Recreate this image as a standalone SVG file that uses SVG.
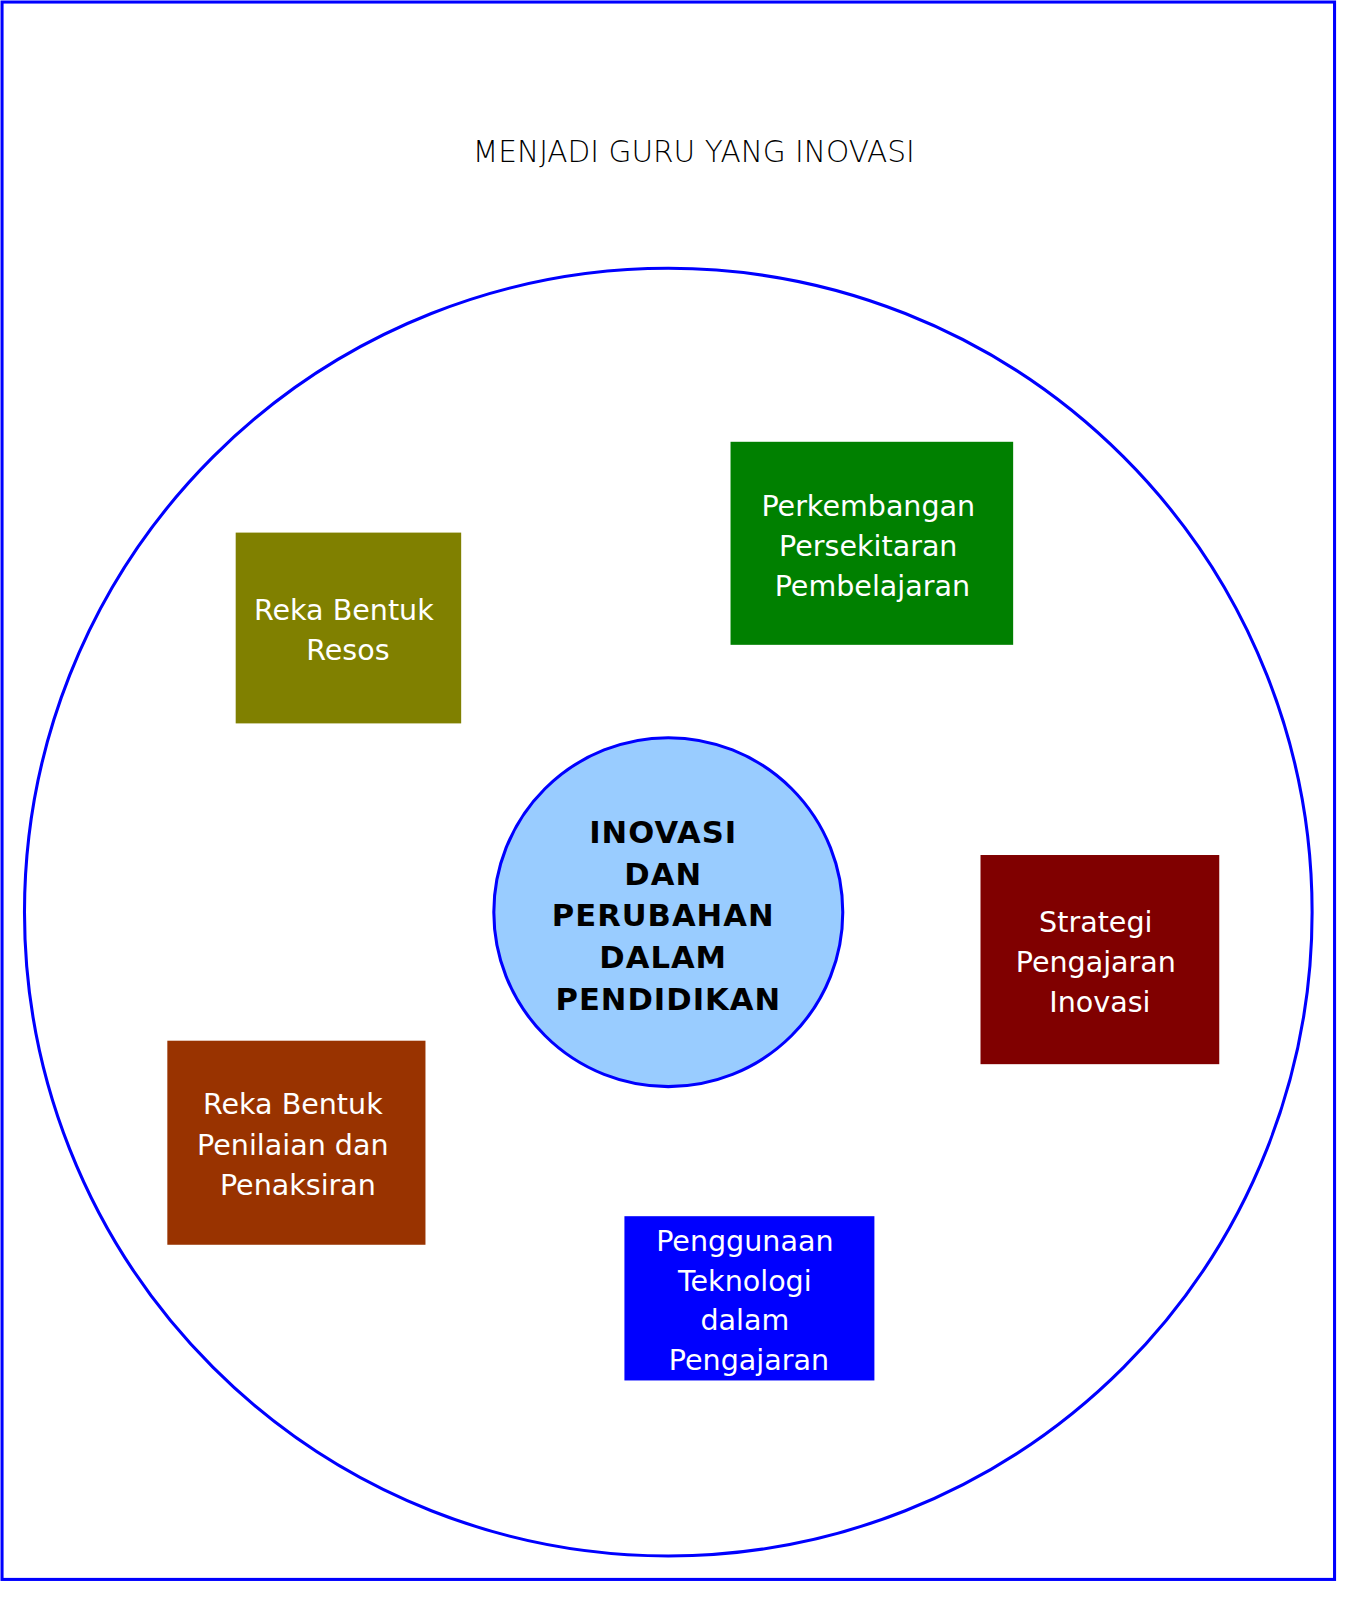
<svg xmlns="http://www.w3.org/2000/svg" width="1355" height="1600" viewBox="0 0 1355 1600">
<style>
.bt{font-family:"DejaVu Sans",Verdana,sans-serif;font-size:28px;fill:#fff;text-anchor:middle}
.ct{font-family:"DejaVu Sans",Verdana,sans-serif;font-size:30px;font-weight:bold;fill:#000;text-anchor:middle;letter-spacing:1px}
</style>
<rect width="1355" height="1600" fill="#fff"/>
<g transform="scale(1.0203)">
<rect x="2" y="2" width="1306" height="1546" fill="none" stroke="#0000FF" stroke-width="3"/>
<text x="680" y="159" font-family="DejaVu Sans,sans-serif" font-size="29" font-weight="300" text-anchor="middle" fill="#000">MENJADI GURU YANG INOVASI</text>
<g id="outer"><circle cx="655" cy="894" r="631" fill="none" stroke="#0000FF" stroke-width="3"/></g>
<g id="center"><circle cx="655" cy="894" r="171" fill="#99CCFF" stroke="#0000FF" stroke-width="3"/>
<text class="ct"><tspan x="650" y="826">INOVASI</tspan><tspan x="650" y="867">DAN</tspan><tspan x="650" y="908">PERUBAHAN</tspan><tspan x="650" y="949">DALAM</tspan><tspan x="655" y="990">PENDIDIKAN</tspan></text></g>
<g id="resos"><rect x="231" y="522" width="221" height="187" fill="#808000"/>
<text class="bt"><tspan x="337" y="608">Reka Bentuk</tspan><tspan x="341" y="647">Resos</tspan></text></g>
<g id="persekitaran"><rect x="716" y="433" width="277" height="199" fill="#008000"/>
<text class="bt"><tspan x="851" y="506">Perkembangan</tspan><tspan x="851" y="545">Persekitaran</tspan><tspan x="855" y="584">Pembelajaran</tspan></text></g>
<g id="strategi"><rect x="961" y="838" width="234" height="205" fill="#800000"/>
<text class="bt"><tspan x="1074" y="913">Strategi</tspan><tspan x="1074" y="953">Pengajaran</tspan><tspan x="1078" y="992">Inovasi</tspan></text></g>
<g id="penilaian"><rect x="164" y="1020" width="253" height="200" fill="#993300"/>
<text class="bt"><tspan x="287" y="1092">Reka Bentuk</tspan><tspan x="287" y="1132">Penilaian dan</tspan><tspan x="292" y="1171">Penaksiran</tspan></text></g>
<g id="teknologi"><rect x="612" y="1192" width="245" height="161" fill="#0000FF"/>
<text class="bt"><tspan x="730" y="1226">Penggunaan</tspan><tspan x="730" y="1265">Teknologi</tspan><tspan x="730" y="1304">dalam</tspan><tspan x="734" y="1343">Pengajaran</tspan></text></g>
<g id="connectors"/>
</g>
</svg>
